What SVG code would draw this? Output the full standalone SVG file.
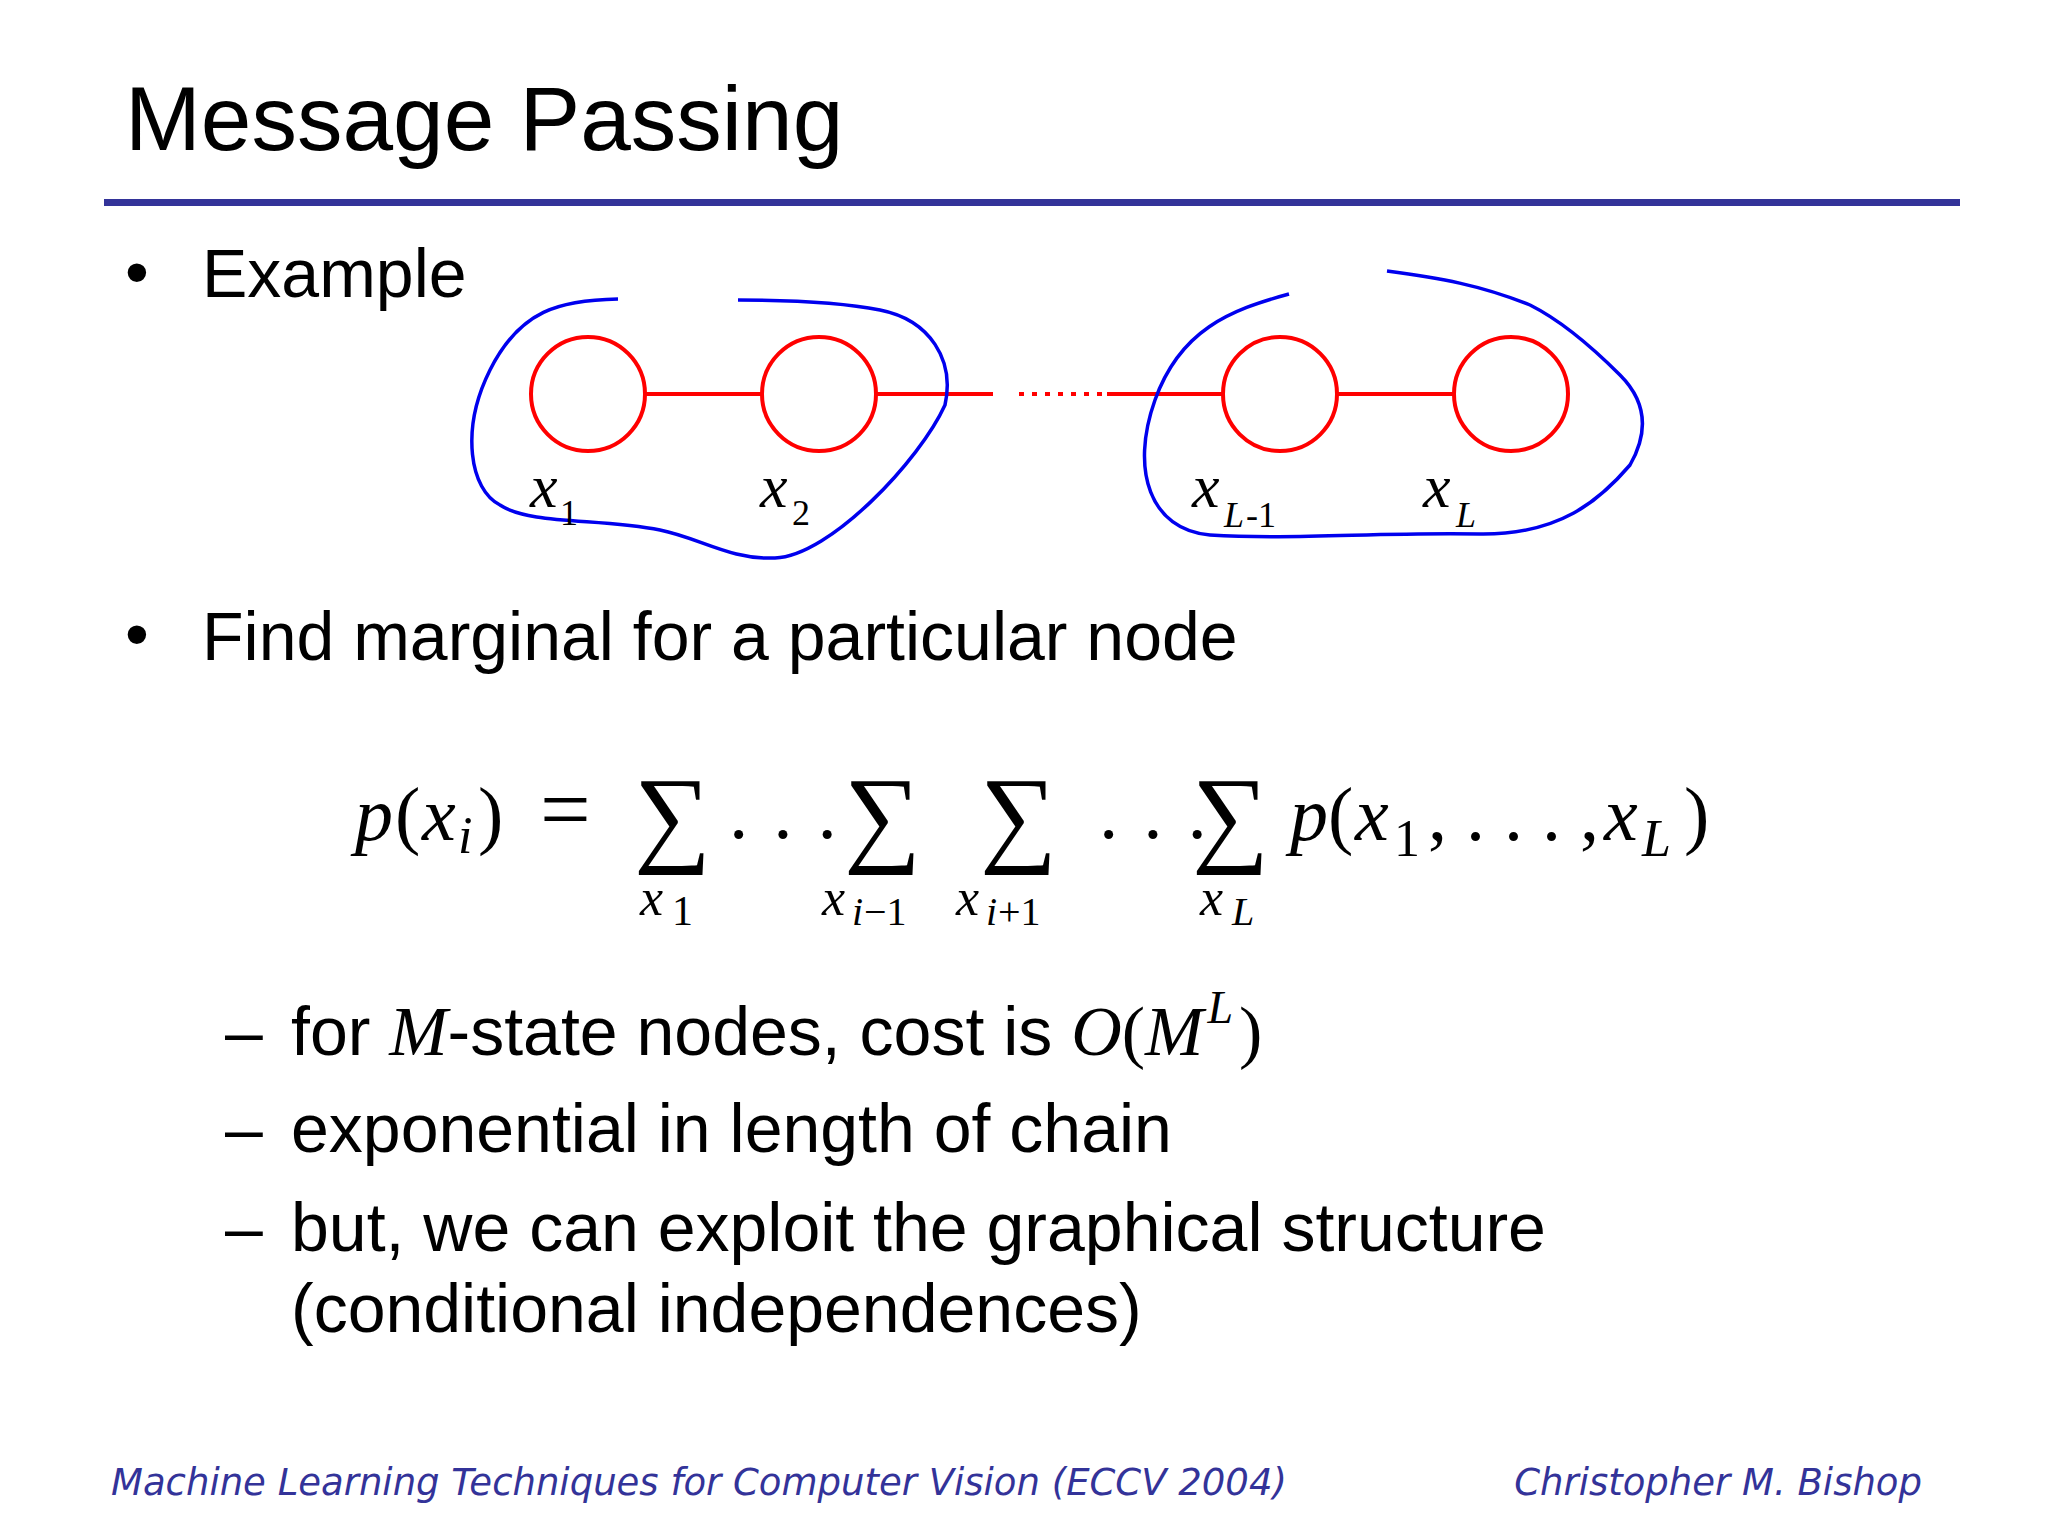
<svg xmlns="http://www.w3.org/2000/svg" width="2048" height="1536" viewBox="0 0 2048 1536">
<style>
.t{font-family:"Liberation Sans",Arial,sans-serif;font-size:68px;fill:#000}
.m{font-family:"Liberation Serif","Times New Roman",serif;font-style:italic;fill:#000}
.r{font-family:"Liberation Serif","Times New Roman",serif;fill:#000}
.node{fill:none;stroke:#ff0000;stroke-width:4}
.edge{stroke:#ff0000;stroke-width:4}
.loop{fill:none;stroke:#0000ee;stroke-width:3.5}
.foot{font-family:"DejaVu Sans",sans-serif;font-style:italic;font-size:37px;fill:#333399}
</style>
<rect width="2048" height="1536" fill="#fff"/>
<text x="125" y="150" style="font-family:'Liberation Sans',Arial,sans-serif;font-size:91px">Message Passing</text>
<rect x="104" y="199" width="1856" height="7" fill="#333399"/>
<text class="t" x="125" y="295">•</text>
<text class="t" x="202" y="297">Example</text>
<g id="connectors">
<line class="edge" x1="645" y1="394" x2="762" y2="394"/>
<line class="edge" x1="876" y1="394" x2="993" y2="394"/>
<line class="edge" x1="1019" y1="394" x2="1104" y2="394" stroke-dasharray="5,8"/>
<line class="edge" x1="1107" y1="394" x2="1223" y2="394"/>
<line class="edge" x1="1337" y1="394" x2="1454" y2="394"/>
<path class="loop" d="M618,299 C560,300 520,310 490,370 C460,430 470,490 500,505 C530,525 600,518 660,530 C700,538 730,560 775,558 C830,556 920,460 945,405 C955,360 930,320 880,310 C840,302 780,300 738,300"/>
<path class="loop" d="M1289,294 C1230,310 1180,330 1155,400 C1130,470 1150,530 1210,535 C1290,540 1380,532 1480,534 C1560,535 1600,500 1630,465 C1650,430 1645,400 1620,375 C1580,335 1550,315 1530,305 C1480,285 1440,278 1387,271"/>
</g>
<g id="n1"><circle class="node" cx="588" cy="394" r="57"/><text class="m" x="530" y="507" font-size="62">x</text><text class="r" x="560" y="525" font-size="36">1</text></g>
<g id="n2"><circle class="node" cx="819" cy="394" r="57"/><text class="m" x="760" y="507" font-size="62">x</text><text class="r" x="792" y="525" font-size="36">2</text></g>
<g id="n3"><circle class="node" cx="1280" cy="394" r="57"/><text class="m" x="1192" y="507" font-size="62">x</text><text class="m" x="1224" y="527" font-size="36">L</text><text class="r" x="1246" y="527" font-size="36">-1</text></g>
<g id="n4"><circle class="node" cx="1511" cy="394" r="57"/><text class="m" x="1423" y="507" font-size="62">x</text><text class="m" x="1456" y="527" font-size="36">L</text></g>
<text class="t" x="125" y="657">•</text>
<text class="t" x="202" y="660">Find marginal for a particular node</text>
<g font-size="76">
<text class="m" x="355" y="840">p</text><text class="r" x="395" y="840">(</text><text class="m" x="422" y="840">x</text><text class="m" x="458" y="853" font-size="52">i</text><text class="r" x="478" y="840">)</text>
<text class="r" x="540" y="840" font-size="90">=</text>
<text class="r" x="634" y="852" font-size="108">∑</text><text class="r" x="726" y="860">· · ·</text>
<text class="r" x="844" y="852" font-size="108">∑</text>
<text class="r" x="980" y="852" font-size="108">∑</text><text class="r" x="1096" y="860">· · ·</text>
<text class="r" x="1192" y="852" font-size="108">∑</text>
<text class="m" x="1290" y="840">p</text><text class="r" x="1328" y="840">(</text><text class="m" x="1355" y="840">x</text><text class="r" x="1394" y="856" font-size="52">1</text><text class="r" x="1428" y="840">, . . . ,</text><text class="m" x="1604" y="840">x</text><text class="m" x="1642" y="856" font-size="52">L</text><text class="r" x="1684" y="840">)</text>
</g>
<g font-size="52">
<text class="m" x="640" y="915">x</text><text class="r" x="672" y="925" font-size="42">1</text>
<text class="m" x="822" y="915">x</text><text class="m" x="852" y="925" font-size="40">i</text><text class="r" x="864" y="925" font-size="40">−1</text>
<text class="m" x="956" y="915">x</text><text class="m" x="986" y="925" font-size="40">i</text><text class="r" x="998" y="925" font-size="40">+1</text>
<text class="m" x="1200" y="915">x</text><text class="m" x="1232" y="925" font-size="40">L</text>
</g>
<text class="t" x="225" y="1055">–</text>
<text class="t" x="291" y="1055">for <tspan class="m" font-size="70">M</tspan>-state nodes, cost is <tspan class="m" font-size="70">O</tspan><tspan class="r" font-size="70">(</tspan><tspan class="m" font-size="70">M</tspan><tspan class="m" font-size="46" dy="-32" dx="4">L</tspan><tspan class="r" font-size="70" dy="32" dx="6">)</tspan></text>
<text class="t" x="225" y="1152">–</text>
<text class="t" x="291" y="1152">exponential in length of chain</text>
<text class="t" x="225" y="1251">–</text>
<text class="t" x="291" y="1251">but, we can exploit the graphical structure</text>
<text class="t" x="291" y="1332">(conditional independences)</text>
<text class="foot" x="111" y="1495">Machine Learning Techniques for Computer Vision (ECCV 2004)</text>
<text class="foot" x="1922" y="1495" text-anchor="end">Christopher M. Bishop</text>
</svg>
